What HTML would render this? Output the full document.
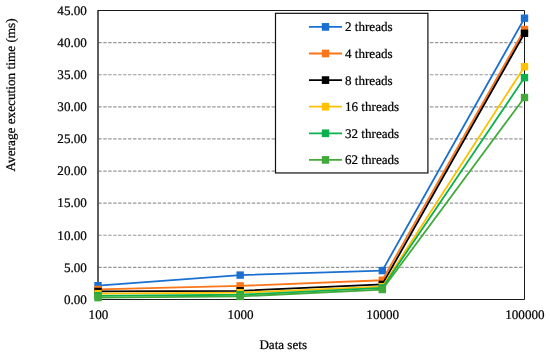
<!DOCTYPE html><html><head><meta charset="utf-8"><title>chart</title>
<style>html,body{margin:0;padding:0;background:#fff}svg{display:block}text{font-family:"Liberation Serif",serif;font-size:13.1px;fill:#000;stroke:#000;stroke-width:0.22px;text-rendering:geometricPrecision}</style></head><body>
<svg width="550" height="356" viewBox="0 0 550 356">
<rect width="550" height="356" fill="#fff"/>
<line x1="98.35" x2="524.5" y1="267.39" y2="267.39" stroke="#989898" stroke-width="1.15" stroke-dasharray="3.4 1.55"/>
<line x1="98.35" x2="524.5" y1="235.28" y2="235.28" stroke="#989898" stroke-width="1.15" stroke-dasharray="3.4 1.55"/>
<line x1="98.35" x2="524.5" y1="203.17" y2="203.17" stroke="#989898" stroke-width="1.15" stroke-dasharray="3.4 1.55"/>
<line x1="98.35" x2="524.5" y1="171.06" y2="171.06" stroke="#989898" stroke-width="1.15" stroke-dasharray="3.4 1.55"/>
<line x1="98.35" x2="524.5" y1="138.94" y2="138.94" stroke="#989898" stroke-width="1.15" stroke-dasharray="3.4 1.55"/>
<line x1="98.35" x2="524.5" y1="106.83" y2="106.83" stroke="#989898" stroke-width="1.15" stroke-dasharray="3.4 1.55"/>
<line x1="98.35" x2="524.5" y1="74.72" y2="74.72" stroke="#989898" stroke-width="1.15" stroke-dasharray="3.4 1.55"/>
<line x1="98.35" x2="524.5" y1="42.61" y2="42.61" stroke="#989898" stroke-width="1.15" stroke-dasharray="3.4 1.55"/>
<path d="M98.0 10.5H524.5V299.5H98.0" fill="none" stroke="#1a1a1a" stroke-width="1"/>
<line x1="98.0" x2="98.0" y1="10.0" y2="300.0" stroke="#1a1a1a" stroke-width="1.4"/>
<text x="86.8" y="303.80" text-anchor="end">0.00</text>
<text x="86.8" y="271.69" text-anchor="end">5.00</text>
<text x="86.8" y="239.58" text-anchor="end">10.00</text>
<text x="86.8" y="207.47" text-anchor="end">15.00</text>
<text x="86.8" y="175.36" text-anchor="end">20.00</text>
<text x="86.8" y="143.24" text-anchor="end">25.00</text>
<text x="86.8" y="111.13" text-anchor="end">30.00</text>
<text x="86.8" y="79.02" text-anchor="end">35.00</text>
<text x="86.8" y="46.91" text-anchor="end">40.00</text>
<text x="86.8" y="14.80" text-anchor="end">45.00</text>
<text x="98.40" y="319.3" text-anchor="middle">100</text>
<text x="240.57" y="319.3" text-anchor="middle">1000</text>
<text x="382.73" y="319.3" text-anchor="middle">10000</text>
<text x="524.90" y="319.3" text-anchor="middle">100000</text>
<text x="283.2" y="349.1" text-anchor="middle">Data sets</text>
<text transform="translate(14.7 94.9) rotate(-90)" text-anchor="middle" style="font-size:13.25px">Average execution time (ms)</text>
<polyline points="98.00,285.69 240.17,275.10 382.33,270.60 524.50,18.21" fill="none" stroke="#1a70d1" stroke-width="1.8" stroke-linejoin="round"/>
<rect x="94.30" y="281.99" width="7.4" height="7.4" fill="#1a70d1"/>
<rect x="236.47" y="271.40" width="7.4" height="7.4" fill="#1a70d1"/>
<rect x="378.63" y="266.90" width="7.4" height="7.4" fill="#1a70d1"/>
<rect x="520.80" y="14.51" width="7.4" height="7.4" fill="#1a70d1"/>
<polyline points="98.00,289.42 240.17,285.88 382.33,280.23 524.50,29.51" fill="none" stroke="#fb7519" stroke-width="1.8" stroke-linejoin="round"/>
<rect x="94.30" y="285.72" width="7.4" height="7.4" fill="#fb7519"/>
<rect x="236.47" y="282.18" width="7.4" height="7.4" fill="#fb7519"/>
<rect x="378.63" y="276.53" width="7.4" height="7.4" fill="#fb7519"/>
<rect x="520.80" y="25.81" width="7.4" height="7.4" fill="#fb7519"/>
<polyline points="98.00,291.47 240.17,290.83 382.33,284.41 524.50,33.30" fill="none" stroke="#000000" stroke-width="1.8" stroke-linejoin="round"/>
<rect x="94.30" y="287.77" width="7.4" height="7.4" fill="#000000"/>
<rect x="236.47" y="287.13" width="7.4" height="7.4" fill="#000000"/>
<rect x="378.63" y="280.71" width="7.4" height="7.4" fill="#000000"/>
<rect x="520.80" y="29.60" width="7.4" height="7.4" fill="#000000"/>
<polyline points="98.00,293.66 240.17,292.63 382.33,286.66 524.50,66.69" fill="none" stroke="#ffc000" stroke-width="1.8" stroke-linejoin="round"/>
<rect x="94.30" y="289.96" width="7.4" height="7.4" fill="#ffc000"/>
<rect x="236.47" y="288.93" width="7.4" height="7.4" fill="#ffc000"/>
<rect x="378.63" y="282.96" width="7.4" height="7.4" fill="#ffc000"/>
<rect x="520.80" y="62.99" width="7.4" height="7.4" fill="#ffc000"/>
<polyline points="98.00,295.78 240.17,294.75 382.33,287.94 524.50,77.61" fill="none" stroke="#0cb04c" stroke-width="1.8" stroke-linejoin="round"/>
<rect x="94.30" y="292.08" width="7.4" height="7.4" fill="#0cb04c"/>
<rect x="236.47" y="291.05" width="7.4" height="7.4" fill="#0cb04c"/>
<rect x="378.63" y="284.24" width="7.4" height="7.4" fill="#0cb04c"/>
<rect x="520.80" y="73.91" width="7.4" height="7.4" fill="#0cb04c"/>
<polyline points="98.00,297.64 240.17,296.42 382.33,289.55 524.50,97.52" fill="none" stroke="#42aa3a" stroke-width="1.8" stroke-linejoin="round"/>
<rect x="94.30" y="293.94" width="7.4" height="7.4" fill="#42aa3a"/>
<rect x="236.47" y="292.72" width="7.4" height="7.4" fill="#42aa3a"/>
<rect x="378.63" y="285.85" width="7.4" height="7.4" fill="#42aa3a"/>
<rect x="520.80" y="93.82" width="7.4" height="7.4" fill="#42aa3a"/>
<rect x="275.5" y="13.3" width="152.4" height="159.65" fill="#fff" stroke="#111" stroke-width="1.2"/>
<line x1="309" x2="342" y1="26.90" y2="26.90" stroke="#1a70d1" stroke-width="1.8"/>
<rect x="321.80" y="23.05" width="7.4" height="7.7" fill="#1a70d1"/>
<text x="345" y="31.30">2 threads</text>
<line x1="309" x2="342" y1="53.50" y2="53.50" stroke="#fb7519" stroke-width="1.8"/>
<rect x="321.80" y="49.65" width="7.4" height="7.7" fill="#fb7519"/>
<text x="345" y="57.90">4 threads</text>
<line x1="309" x2="342" y1="80.10" y2="80.10" stroke="#000000" stroke-width="1.8"/>
<rect x="321.80" y="76.25" width="7.4" height="7.7" fill="#000000"/>
<text x="345" y="84.50">8 threads</text>
<line x1="309" x2="342" y1="106.70" y2="106.70" stroke="#ffc000" stroke-width="1.8"/>
<rect x="321.80" y="102.85" width="7.4" height="7.7" fill="#ffc000"/>
<text x="345" y="111.10">16 threads</text>
<line x1="309" x2="342" y1="133.30" y2="133.30" stroke="#0cb04c" stroke-width="1.8"/>
<rect x="321.80" y="129.45" width="7.4" height="7.7" fill="#0cb04c"/>
<text x="345" y="137.70">32 threads</text>
<line x1="309" x2="342" y1="159.90" y2="159.90" stroke="#42aa3a" stroke-width="1.8"/>
<rect x="321.80" y="156.05" width="7.4" height="7.7" fill="#42aa3a"/>
<text x="345" y="164.30">62 threads</text>
</svg></body></html>
